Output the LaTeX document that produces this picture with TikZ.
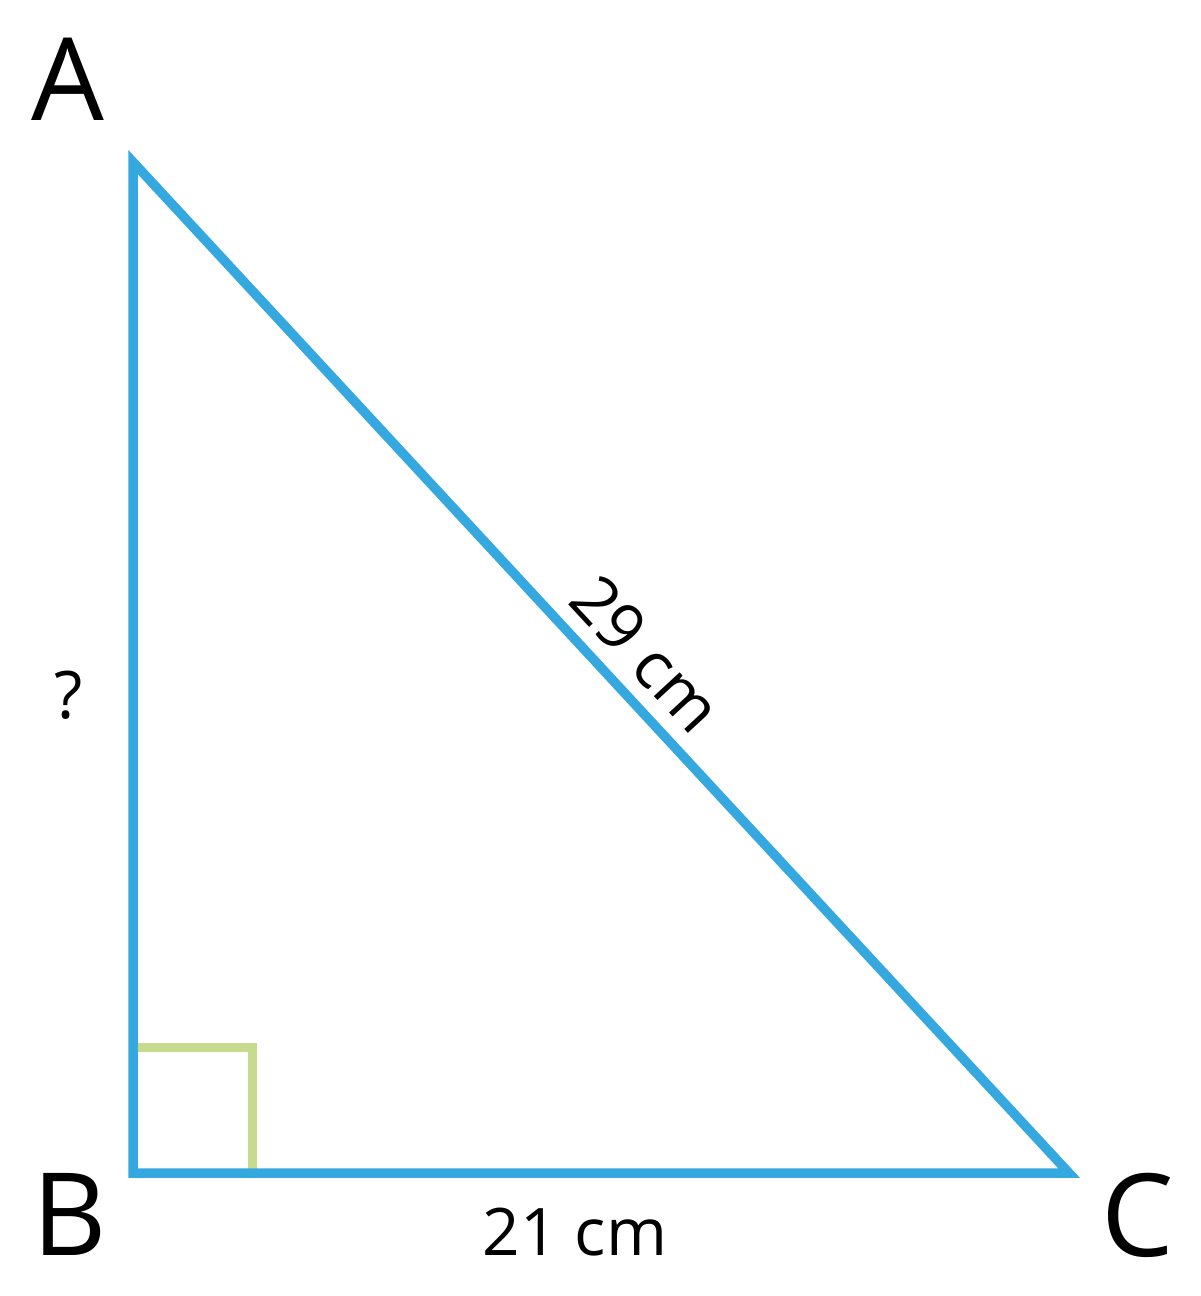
\documentclass[tikz,border=0pt]{standalone}
\usepackage{fontspec}
\setmainfont{Open Sans}
\definecolor{triblue}{RGB}{53,168,224}
\definecolor{rgreen}{RGB}{198,219,142}
\begin{document}
\begin{tikzpicture}[x=0.5pt,y=-0.5pt,
  vlabel/.style={inner sep=0pt,font=\fontsize{57.5}{60}\selectfont},
  slabel/.style={inner sep=0pt,font=\fontsize{32.8}{36}\selectfont},
  side/.style={triblue,line width=4.75pt,line join=miter},
  rmark/.style={rgreen,line width=4.5pt}]
\useasboundingbox (0,0) rectangle (1200,1296);
\coordinate (A) at (133,162);
\coordinate (B) at (133,1173);
\coordinate (C) at (1069,1173);
\coordinate (M1) at (133,1047.5);
\coordinate (M2) at (252,1047.5);
\coordinate (M3) at (252,1173);
\draw[rmark] (M1) -- (M2) -- (M3);
\draw[side] (A) -- (B) -- (C) -- cycle;
\node[vlabel] (la) at (67.5,79) {A};
\node[vlabel] (lb) at (70,1214.5) {B};
\node[vlabel] (lc) at (1137.5,1215) {C};
\node[slabel] (lq) at (68.5,695) {?};
\node[slabel] (lbc) at (575,1232) {21 cm};
\node[slabel,anchor=base,rotate=-47.2] (lac) at (629,670) {29 cm};
\end{tikzpicture}
\end{document}
